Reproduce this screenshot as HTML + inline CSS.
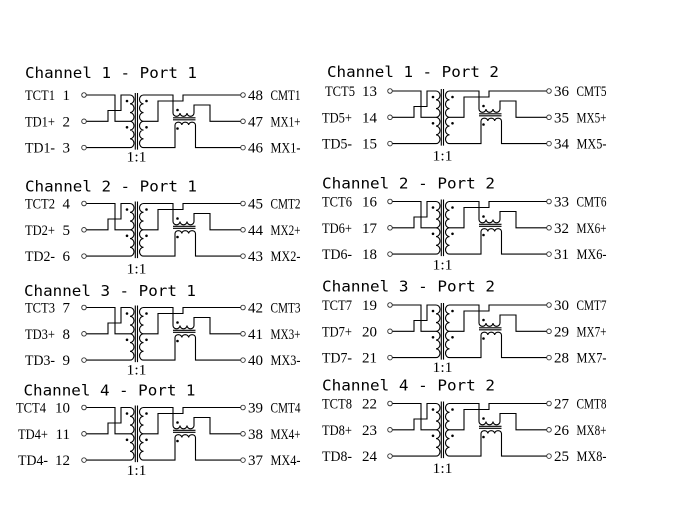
<!DOCTYPE html>
<html>
<head>
<meta charset="utf-8">
<style>
html,body{margin:0;padding:0;background:#fff;}
svg{display:block;}
.t{font-family:"DejaVu Sans Mono","Liberation Mono",monospace;font-size:15px;fill:#000;}
.p{font-family:"Liberation Serif","Noto Serif CJK SC",serif;font-size:15px;fill:#000;}
.e{text-anchor:end;}
</style>
</head>
<body>
<svg width="678" height="518" viewBox="0 0 678 518" xmlns="http://www.w3.org/2000/svg">
<defs>
<g id="c">
  <g fill="none" stroke="#000" stroke-width="1.1">
    <path d="M2.3,0 H31 V26.3 H46"/>
    <path d="M2.3,26.3 H24 V15.5 H37 V0 H46"/>
    <path d="M2.3,52.6 H46"/>
    <path d="M46,0 a4,4.383 0 0 1 0,8.767 a4,4.383 0 0 1 0,8.767 a4,4.383 0 0 1 0,8.767 a4,4.383 0 0 1 0,8.767 a4,4.383 0 0 1 0,8.767 a4,4.383 0 0 1 0,8.767"/>
    <path d="M51.3,-2 V54.6 M53.5,-2 V54.6"/>
    <path d="M59.5,0 a4,4.383 0 0 0 0,8.767 a4,4.383 0 0 0 0,8.767 a4,4.383 0 0 0 0,8.767 a4,4.383 0 0 0 0,8.767 a4,4.383 0 0 0 0,8.767 a4,4.383 0 0 0 0,8.767"/>
    <path d="M59.5,0 H89 V18 a3.5,3.3 0 0 0 7,0 a3.5,3.3 0 0 0 7,0 a3.5,3.3 0 0 0 7,0 V10 H126 V26.3 H156.7"/>
    <path d="M89,22.8 H111.5 M89,24.8 H111.5"/>
    <path d="M59.5,52.6 H91 V30 a3.42,3 0 0 1 6.83,0 a3.42,3 0 0 1 6.83,0 a3.42,3 0 0 1 6.83,0 V52.6 H156.7"/>
    <path d="M59.5,26.3 H74 V6 H99 V0 H156.7"/>
  </g>
  <g fill="#fff" stroke="#333" stroke-width="0.9">
    <circle cx="0" cy="0" r="2.3"/>
    <circle cx="0" cy="26.3" r="2.3"/>
    <circle cx="0" cy="52.6" r="2.3"/>
    <circle cx="159" cy="0" r="2.3"/>
    <circle cx="159" cy="26.3" r="2.3"/>
    <circle cx="159" cy="52.6" r="2.3"/>
  </g>
  <g fill="#000">
    <circle cx="43" cy="6" r="1.3"/>
    <circle cx="43" cy="32.3" r="1.3"/>
    <circle cx="62.5" cy="6" r="1.3"/>
    <circle cx="62.5" cy="32.3" r="1.3"/>
    <circle cx="93.5" cy="15" r="1.3"/>
    <circle cx="93.5" cy="33.5" r="1.3"/>
  </g>
</g>
</defs>

<!-- ===== LEFT COLUMN ===== -->
<text class="t" x="25" y="78" textLength="172" lengthAdjust="spacingAndGlyphs">Channel 1 - Port 1</text>
<use href="#c" transform="translate(84,95)"/>
<text class="p" x="25" y="100" textLength="30" lengthAdjust="spacingAndGlyphs">TCT1</text><text class="p e" x="70" y="100">1</text>
<text class="p" x="25" y="126.3" textLength="30" lengthAdjust="spacingAndGlyphs">TD1+</text><text class="p e" x="70" y="126.3">2</text>
<text class="p" x="25" y="152.6" textLength="30" lengthAdjust="spacingAndGlyphs">TD1-</text><text class="p e" x="70" y="152.6">3</text>
<text class="p" x="248" y="100">48</text><text class="p" x="270.5" y="100" textLength="30" lengthAdjust="spacingAndGlyphs">CMT1</text>
<text class="p" x="248" y="126.3">47</text><text class="p" x="270.5" y="126.3" textLength="30" lengthAdjust="spacingAndGlyphs">MX1+</text>
<text class="p" x="248" y="152.6">46</text><text class="p" x="270.5" y="152.6" textLength="30" lengthAdjust="spacingAndGlyphs">MX1-</text>
<text class="p" x="126.5" y="161.3" textLength="20" lengthAdjust="spacingAndGlyphs">1:1</text>

<text class="t" x="25" y="191.5" textLength="172" lengthAdjust="spacingAndGlyphs">Channel 2 - Port 1</text>
<use href="#c" transform="translate(84,203.5)"/>
<text class="p" x="25" y="208.5" textLength="30" lengthAdjust="spacingAndGlyphs">TCT2</text><text class="p e" x="70" y="208.5">4</text>
<text class="p" x="25" y="234.8" textLength="30" lengthAdjust="spacingAndGlyphs">TD2+</text><text class="p e" x="70" y="234.8">5</text>
<text class="p" x="25" y="261.1" textLength="30" lengthAdjust="spacingAndGlyphs">TD2-</text><text class="p e" x="70" y="261.1">6</text>
<text class="p" x="248" y="208.5">45</text><text class="p" x="270.5" y="208.5" textLength="30" lengthAdjust="spacingAndGlyphs">CMT2</text>
<text class="p" x="248" y="234.8">44</text><text class="p" x="270.5" y="234.8" textLength="30" lengthAdjust="spacingAndGlyphs">MX2+</text>
<text class="p" x="248" y="261.1">43</text><text class="p" x="270.5" y="261.1" textLength="30" lengthAdjust="spacingAndGlyphs">MX2-</text>
<text class="p" x="126.5" y="273.3" textLength="20" lengthAdjust="spacingAndGlyphs">1:1</text>

<text class="t" x="24" y="296" textLength="172" lengthAdjust="spacingAndGlyphs">Channel 3 - Port 1</text>
<use href="#c" transform="translate(84,307.5)"/>
<text class="p" x="25" y="312.5" textLength="30" lengthAdjust="spacingAndGlyphs">TCT3</text><text class="p e" x="70" y="312.5">7</text>
<text class="p" x="25" y="338.8" textLength="30" lengthAdjust="spacingAndGlyphs">TD3+</text><text class="p e" x="70" y="338.8">8</text>
<text class="p" x="25" y="365.1" textLength="30" lengthAdjust="spacingAndGlyphs">TD3-</text><text class="p e" x="70" y="365.1">9</text>
<text class="p" x="248" y="312.5">42</text><text class="p" x="270.5" y="312.5" textLength="30" lengthAdjust="spacingAndGlyphs">CMT3</text>
<text class="p" x="248" y="338.8">41</text><text class="p" x="270.5" y="338.8" textLength="30" lengthAdjust="spacingAndGlyphs">MX3+</text>
<text class="p" x="248" y="365.1">40</text><text class="p" x="270.5" y="365.1" textLength="30" lengthAdjust="spacingAndGlyphs">MX3-</text>
<text class="p" x="126.5" y="374.3" textLength="20" lengthAdjust="spacingAndGlyphs">1:1</text>

<text class="t" x="23.5" y="395.5" textLength="172" lengthAdjust="spacingAndGlyphs">Channel 4 - Port 1</text>
<use href="#c" transform="translate(84,407.5)"/>
<text class="p" x="16" y="412.5" textLength="30" lengthAdjust="spacingAndGlyphs">TCT4</text><text class="p e" x="70" y="412.5">10</text>
<text class="p" x="18" y="438.8" textLength="30" lengthAdjust="spacingAndGlyphs">TD4+</text><text class="p e" x="70" y="438.8">11</text>
<text class="p" x="18" y="465.1" textLength="30" lengthAdjust="spacingAndGlyphs">TD4-</text><text class="p e" x="70" y="465.1">12</text>
<text class="p" x="248" y="412.5">39</text><text class="p" x="270.5" y="412.5" textLength="30" lengthAdjust="spacingAndGlyphs">CMT4</text>
<text class="p" x="248" y="438.8">38</text><text class="p" x="270.5" y="438.8" textLength="30" lengthAdjust="spacingAndGlyphs">MX4+</text>
<text class="p" x="248" y="465.1">37</text><text class="p" x="270.5" y="465.1" textLength="30" lengthAdjust="spacingAndGlyphs">MX4-</text>
<text class="p" x="126.5" y="474.8" textLength="20" lengthAdjust="spacingAndGlyphs">1:1</text>

<!-- ===== RIGHT COLUMN ===== -->
<text class="t" x="327" y="77" textLength="172" lengthAdjust="spacingAndGlyphs">Channel 1 - Port 2</text>
<use href="#c" transform="translate(390,91)"/>
<text class="p" x="325" y="96" textLength="30" lengthAdjust="spacingAndGlyphs">TCT5</text><text class="p e" x="377" y="96">13</text>
<text class="p" x="322" y="122.3" textLength="30" lengthAdjust="spacingAndGlyphs">TD5+</text><text class="p e" x="377" y="122.3">14</text>
<text class="p" x="322" y="148.6" textLength="30" lengthAdjust="spacingAndGlyphs">TD5-</text><text class="p e" x="377" y="148.6">15</text>
<text class="p" x="554" y="96">36</text><text class="p" x="576.5" y="96" textLength="30" lengthAdjust="spacingAndGlyphs">CMT5</text>
<text class="p" x="554" y="122.3">35</text><text class="p" x="576.5" y="122.3" textLength="30" lengthAdjust="spacingAndGlyphs">MX5+</text>
<text class="p" x="554" y="148.6">34</text><text class="p" x="576.5" y="148.6" textLength="30" lengthAdjust="spacingAndGlyphs">MX5-</text>
<text class="p" x="432.5" y="160.3" textLength="20" lengthAdjust="spacingAndGlyphs">1:1</text>

<text class="t" x="322" y="188.5" textLength="173" lengthAdjust="spacingAndGlyphs">Channel 2 - Port 2</text>
<use href="#c" transform="translate(390,201.5)"/>
<text class="p" x="322" y="206.5" textLength="30" lengthAdjust="spacingAndGlyphs">TCT6</text><text class="p e" x="377" y="206.5">16</text>
<text class="p" x="322" y="232.8" textLength="30" lengthAdjust="spacingAndGlyphs">TD6+</text><text class="p e" x="377" y="232.8">17</text>
<text class="p" x="322" y="259.1" textLength="30" lengthAdjust="spacingAndGlyphs">TD6-</text><text class="p e" x="377" y="259.1">18</text>
<text class="p" x="554" y="206.5">33</text><text class="p" x="576.5" y="206.5" textLength="30" lengthAdjust="spacingAndGlyphs">CMT6</text>
<text class="p" x="554" y="232.8">32</text><text class="p" x="576.5" y="232.8" textLength="30" lengthAdjust="spacingAndGlyphs">MX6+</text>
<text class="p" x="554" y="259.1">31</text><text class="p" x="576.5" y="259.1" textLength="30" lengthAdjust="spacingAndGlyphs">MX6-</text>
<text class="p" x="432.5" y="269.3" textLength="20" lengthAdjust="spacingAndGlyphs">1:1</text>

<text class="t" x="322" y="291.5" textLength="173" lengthAdjust="spacingAndGlyphs">Channel 3 - Port 2</text>
<use href="#c" transform="translate(390,305)"/>
<text class="p" x="322" y="310" textLength="30" lengthAdjust="spacingAndGlyphs">TCT7</text><text class="p e" x="377" y="310">19</text>
<text class="p" x="322" y="336.3" textLength="30" lengthAdjust="spacingAndGlyphs">TD7+</text><text class="p e" x="377" y="336.3">20</text>
<text class="p" x="322" y="362.6" textLength="30" lengthAdjust="spacingAndGlyphs">TD7-</text><text class="p e" x="377" y="362.6">21</text>
<text class="p" x="554" y="310">30</text><text class="p" x="576.5" y="310" textLength="30" lengthAdjust="spacingAndGlyphs">CMT7</text>
<text class="p" x="554" y="336.3">29</text><text class="p" x="576.5" y="336.3" textLength="30" lengthAdjust="spacingAndGlyphs">MX7+</text>
<text class="p" x="554" y="362.6">28</text><text class="p" x="576.5" y="362.6" textLength="30" lengthAdjust="spacingAndGlyphs">MX7-</text>
<text class="p" x="432.5" y="371.8" textLength="20" lengthAdjust="spacingAndGlyphs">1:1</text>

<text class="t" x="322" y="390.5" textLength="173" lengthAdjust="spacingAndGlyphs">Channel 4 - Port 2</text>
<use href="#c" transform="translate(390,403.5)"/>
<text class="p" x="322" y="408.5" textLength="30" lengthAdjust="spacingAndGlyphs">TCT8</text><text class="p e" x="377" y="408.5">22</text>
<text class="p" x="322" y="434.8" textLength="30" lengthAdjust="spacingAndGlyphs">TD8+</text><text class="p e" x="377" y="434.8">23</text>
<text class="p" x="322" y="461.1" textLength="30" lengthAdjust="spacingAndGlyphs">TD8-</text><text class="p e" x="377" y="461.1">24</text>
<text class="p" x="554" y="408.5">27</text><text class="p" x="576.5" y="408.5" textLength="30" lengthAdjust="spacingAndGlyphs">CMT8</text>
<text class="p" x="554" y="434.8">26</text><text class="p" x="576.5" y="434.8" textLength="30" lengthAdjust="spacingAndGlyphs">MX8+</text>
<text class="p" x="554" y="461.1">25</text><text class="p" x="576.5" y="461.1" textLength="30" lengthAdjust="spacingAndGlyphs">MX8-</text>
<text class="p" x="432.5" y="472.8" textLength="20" lengthAdjust="spacingAndGlyphs">1:1</text>
</svg>
</body>
</html>
